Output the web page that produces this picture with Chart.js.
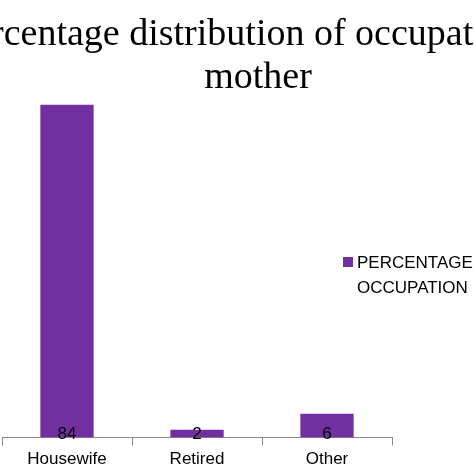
<!DOCTYPE html>
<html><head><meta charset="utf-8">
<script src="https://cdn.jsdelivr.net/npm/chart.js@4/dist/chart.umd.min.js"></script>
<style>html,body{margin:0;padding:0;background:#fff;overflow:hidden}#wrap{width:474px;height:474px}</style>
</head><body><div id="wrap"><canvas id="c"></canvas></div>
<script>
// chart values
const categories = ['Housewife', 'Retired', 'Other'];
const percentages = [84, 2, 6];
const seriesLabel = ['PERCENTAGE', 'OCCUPATION'];
const titleLines = ['Percentage distribution of occupation of', 'mother'];

const PURPLE = '#7030A0';

// title, legend and value labels drawn by hand (reference overflows the canvas)
const extras = {
  id: 'extras',
  afterDraw(chart){
    const ctx = chart.ctx;
    ctx.save();
    ctx.fillStyle = '#000';
    ctx.textAlign = 'center';
    ctx.textBaseline = 'alphabetic';
    ctx.font = '38px "Liberation Serif", serif';
    ctx.fillText(titleLines[0], 258, 45);
    ctx.fillText(titleLines[1], 258, 88);

    // value labels
    ctx.font = '17px "Liberation Sans", sans-serif';
    ctx.textBaseline = 'middle';
    const zero = chart.scales.y.getPixelForValue(0);
    chart.getDatasetMeta(0).data.forEach((bar, i) => {
      const y = Math.max((bar.y + zero) / 2, zero - 3);
      ctx.fillStyle = '#000';
      ctx.fillText(String(percentages[i]), bar.x, y);
    });

    // legend
    ctx.fillStyle = PURPLE;
    ctx.fillRect(343, 257, 10, 10);
    ctx.fillStyle = '#000';
    ctx.textAlign = 'left';
    ctx.fillText(seriesLabel[0], 357, 263);
    ctx.fillText(seriesLabel[1], 357, 288);
    ctx.restore();
  }
};

new Chart(document.getElementById('c'), {
  type: 'bar',
  data: {
    labels: categories,
    datasets: [{ label: seriesLabel.join(' '), data: percentages, backgroundColor: PURPLE,
      barPercentage: 0.41, categoryPercentage: 1 }]
  },
  options: {
    responsive: true, maintainAspectRatio: false, animation: false,
    layout: { padding: { top: 81, left: 2, right: 82, bottom: 0 } },
    plugins: { legend: { display: false }, title: { display: false }, tooltip: { enabled: false } },
    scales: {
      x: {
        offset: true,
        grid: { offset: true, drawOnChartArea: false, tickLength: 8, color: '#888' },
        border: { color: '#888' },
        ticks: { color: '#000', font: { size: 17, family: '"Liberation Sans", sans-serif' }, padding: 4 }
      },
      y: { display: false, min: 0, max: 90 }
    }
  },
  plugins: [extras]
});
</script></body></html>
